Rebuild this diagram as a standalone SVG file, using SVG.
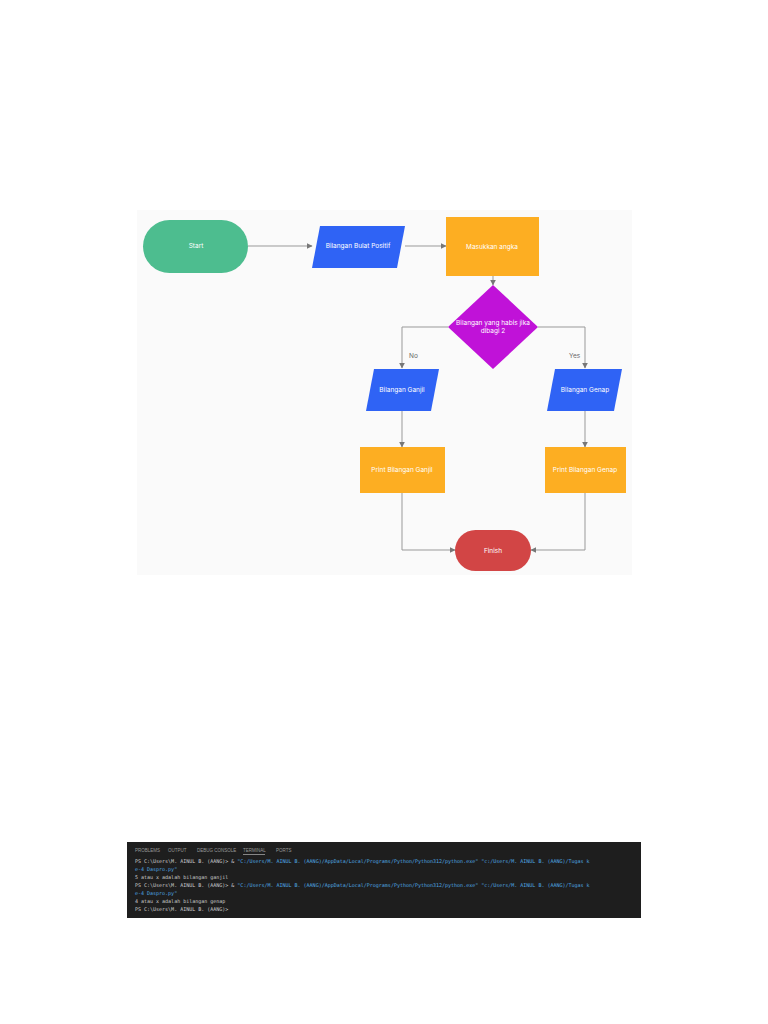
<svg xmlns="http://www.w3.org/2000/svg" width="768" height="1024" viewBox="0 0 768 1024">
<defs>
<marker id="ar" viewBox="0 0 10 10" refX="9" refY="5" markerWidth="6" markerHeight="6" orient="auto"><path d="M0,0L10,5L0,10z" fill="#777"/></marker>
<style>
.t{font-family:Inter,"Liberation Sans",sans-serif;font-size:6.5px;fill:#fff;text-anchor:middle}
.l{font-family:Inter,"Liberation Sans",sans-serif;font-size:6.5px;fill:#666}
.c{fill:none;stroke:#999;stroke-width:1;marker-end:url(#ar)}
.m{font-family:"DejaVu Sans Mono","Liberation Mono",monospace;font-size:5px;fill:#ccc}
.b{fill:#4fa8e0}
.h{font-family:"Liberation Sans",sans-serif;font-size:4.5px;fill:#999}
</style>
</defs>
<rect width="768" height="1024" fill="#fff"/>
<rect x="137" y="210" width="495" height="365" fill="#fafafa"/>
<g id="connectors">
<path class="c" d="M248,246H312"/>
<path class="c" d="M405,246H446"/>
<path class="c" d="M493,276V285"/>
<path class="c" d="M448,327H402V368"/>
<path class="c" d="M538,327H585V368"/>
<path class="c" d="M402,411V447"/>
<path class="c" d="M585,411V447"/>
<path class="c" d="M402,493V550H455"/>
<path class="c" d="M585,493V550H531"/>
<text class="l" x="409" y="358">No</text>
<text class="l" x="569" y="358">Yes</text>
</g>
<g id="start"><rect x="143" y="220" width="105" height="53" rx="26.5" fill="#4dbd8f"/><text class="t" x="196" y="248">Start</text></g>
<g id="input"><polygon points="320,226 405,226 397,268 312,268" fill="#2f63f5"/><text class="t" x="358" y="248">Bilangan Bulat Positif</text></g>
<g id="masukkan"><rect x="446" y="217" width="93" height="59" fill="#fdae22"/><text class="t" x="492" y="249">Masukkan angka</text></g>
<g id="decision"><polygon points="493,285 538,327 493,369 448,327" fill="#c012d8"/><text class="t" x="493" y="325">Bilangan yang habis jika</text><text class="t" x="493" y="333">dibagi 2</text></g>
<g id="ganjil"><polygon points="374,369 439,369 431,411 366,411" fill="#2f63f5"/><text class="t" x="402" y="392">Bilangan Ganjil</text></g>
<g id="genap"><polygon points="555,369 622,369 614,411 547,411" fill="#2f63f5"/><text class="t" x="585" y="392">Bilangan Genap</text></g>
<g id="printganjil"><rect x="360" y="447" width="85" height="46" fill="#fdae22"/><text class="t" x="402" y="472">Print Bilangan Ganjil</text></g>
<g id="printgenap"><rect x="545" y="447" width="81" height="46" fill="#fdae22"/><text class="t" x="585" y="472">Print Bilangan Genap</text></g>
<g id="finish"><rect x="455" y="530" width="76" height="41" rx="20.5" fill="#d24545"/><text class="t" x="493" y="553">Finish</text></g>
<g id="terminal">
<rect x="127" y="842" width="514" height="76" fill="#1e1e1e"/>
<text class="h" x="135" y="852">PROBLEMS</text><text class="h" x="168" y="852">OUTPUT</text><text class="h" x="197" y="852">DEBUG CONSOLE</text><text class="h" x="243" y="852" fill="#ddd">TERMINAL</text><text class="h" x="276" y="852">PORTS</text>
<rect x="243" y="854" width="22" height="0.6" fill="#ccc"/>
<text class="m" x="135" y="863">PS C:\Users\M. AINUL B. (AANG)&gt; &amp; <tspan class="b">"C:/Users/M. AINUL B. (AANG)/AppData/Local/Programs/Python/Python312/python.exe" "c:/Users/M. AINUL B. (AANG)/Tugas k</tspan></text>
<text class="m b" x="135" y="871">e-4 Daspro.py"</text>
<text class="m" x="135" y="879">5 atau x adalah bilangan ganjil</text>
<text class="m" x="135" y="887">PS C:\Users\M. AINUL B. (AANG)&gt; &amp; <tspan class="b">"C:/Users/M. AINUL B. (AANG)/AppData/Local/Programs/Python/Python312/python.exe" "c:/Users/M. AINUL B. (AANG)/Tugas k</tspan></text>
<text class="m b" x="135" y="895">e-4 Daspro.py"</text>
<text class="m" x="135" y="903">4 atau x adalah bilangan genap</text>
<text class="m" x="135" y="911">PS C:\Users\M. AINUL B. (AANG)&gt;</text>
</g>
</svg>
